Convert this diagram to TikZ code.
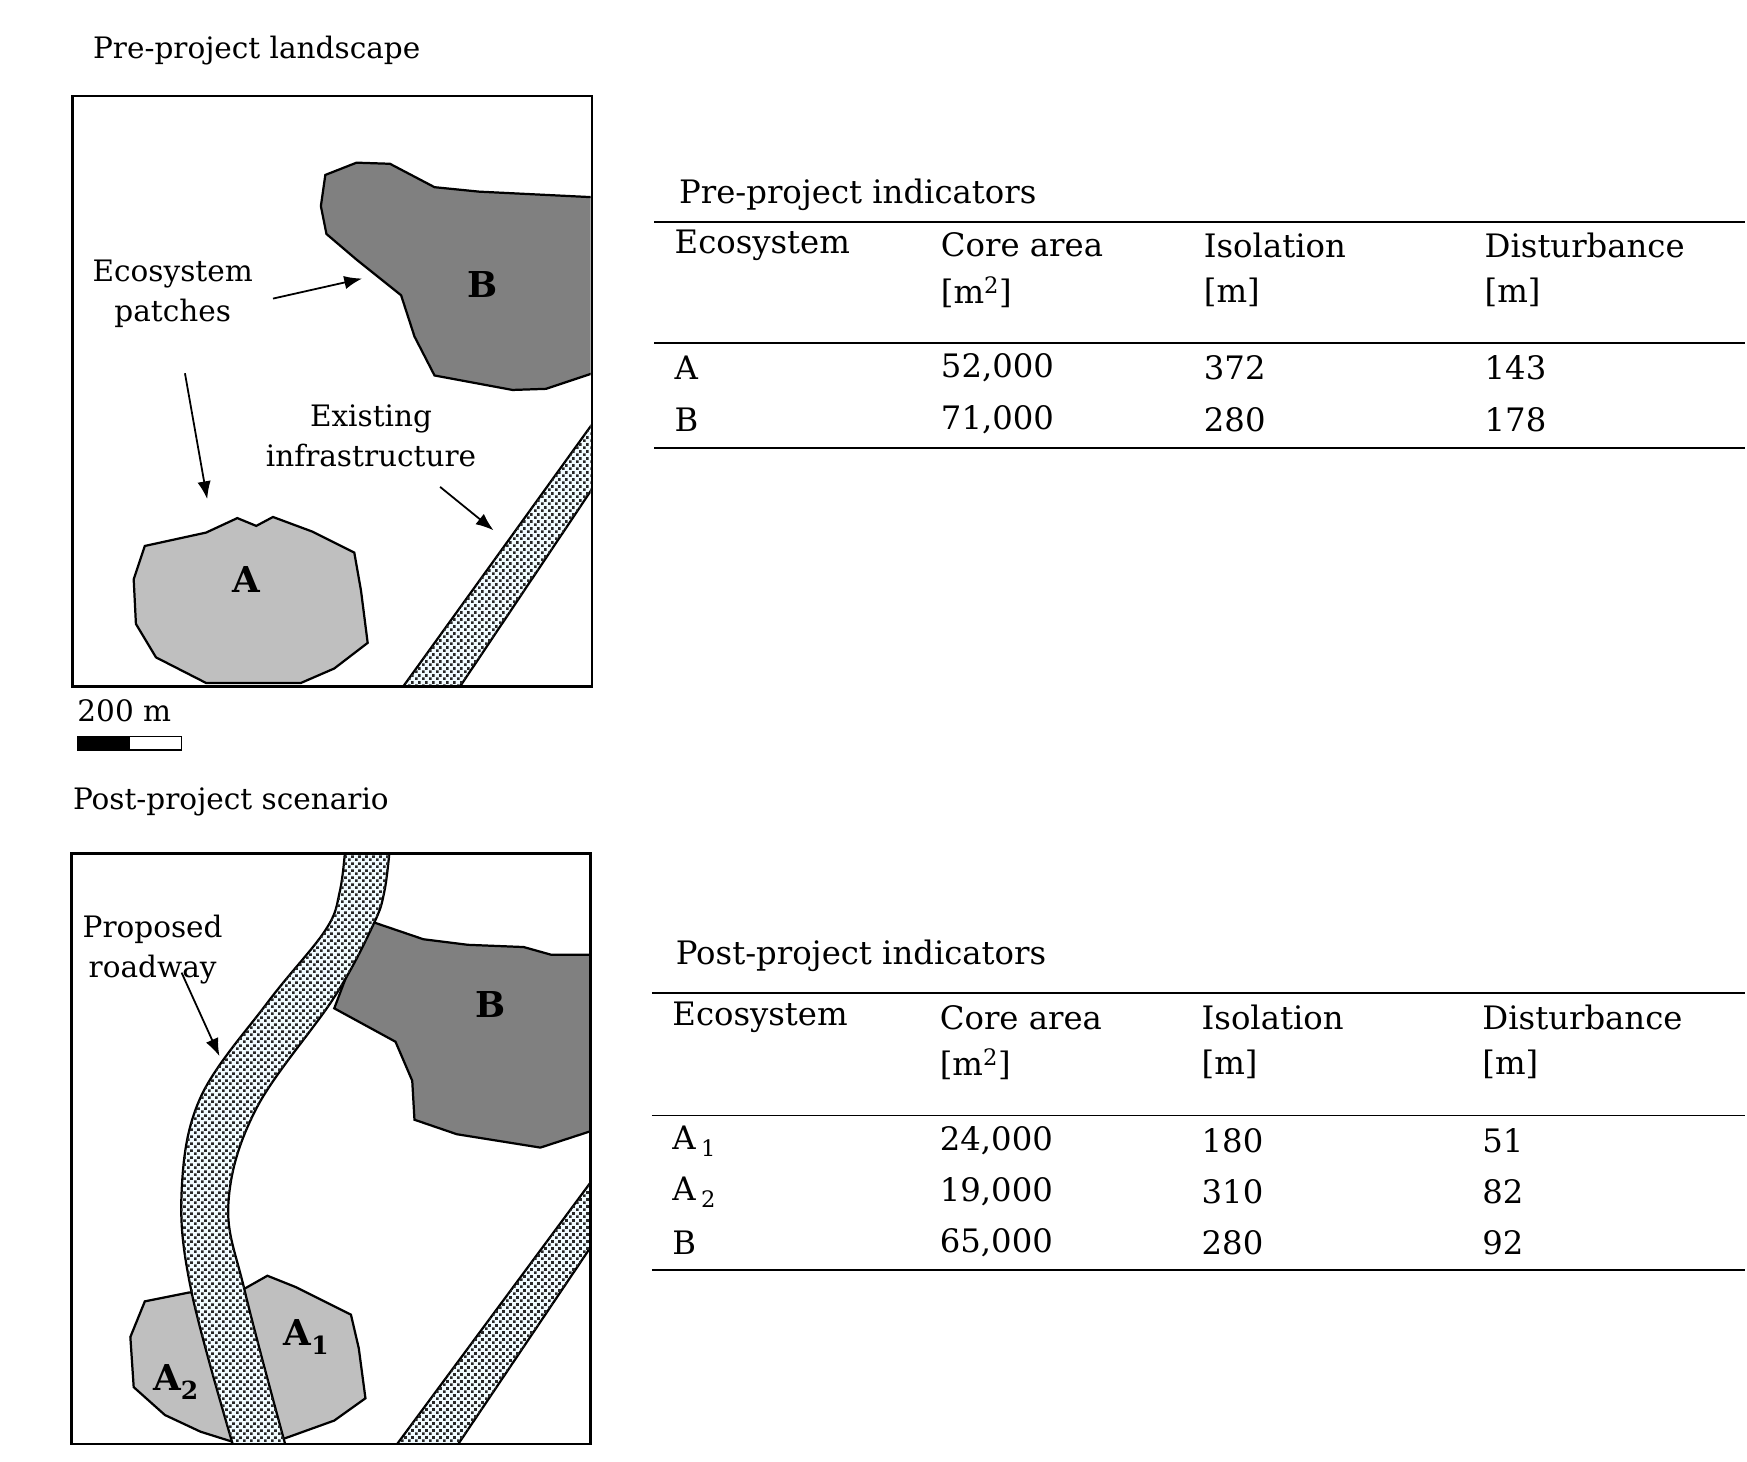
\documentclass[tikz,border=0pt]{standalone}
\usepackage{fontspec}
\setmainfont{DejaVu Serif}
\usetikzlibrary{patterns,arrows.meta}
\pgfdeclarepatternformonly{sqdots}{\pgfqpoint{0pt}{0pt}}{\pgfqpoint{6pt}{6pt}}{\pgfqpoint{6pt}{6pt}}{%
  \pgfpathrectangle{\pgfqpoint{0pt}{0pt}}{\pgfqpoint{2.4pt}{2.4pt}}%
  \pgfpathrectangle{\pgfqpoint{3pt}{3pt}}{\pgfqpoint{2.4pt}{2.4pt}}%
  \pgfusepath{fill}}
\begin{document}
\begin{tikzpicture}[x=1pt,y=-1pt,
  patchA/.style={draw,line width=2pt,fill=black!25},
  patchB/.style={draw,line width=2pt,fill=black!50},
  road/.style={draw,line width=2pt,fill=cyan!6,postaction={pattern=sqdots,pattern color=black!85}},
  frame/.style={draw,line width=2.2pt},
  lbl/.style={font=\fontsize{26.5}{36}\selectfont,align=center},
  big/.style={font=\fontsize{32}{36}\selectfont\bfseries},
  tt/.style={font=\fontsize{29}{33}\selectfont,anchor=west},
  arr/.style={-{Latex[length=16pt,width=12pt]},line width=1.6pt}]
\useasboundingbox (0,0) rectangle (1568,1312);
% ---------- top map
\begin{scope}
\clip (64,85) rectangle (530,615);
\path[patchB] (292,157)--(320,146)--(350,147)--(390,168)--(430,172)--(532,177)--(532,335)--(490,349)--(460,350)--(390,337)--(372,302)--(360,265)--(320,233)--(293,210)--(288,185)--cycle;
\path[patchA] (130,490)--(185,478)--(213,465)--(230,472)--(245,464)--(280,477)--(318,496)--(324,530)--(330,577)--(300,600)--(270,613)--(185,613)--(140,590)--(122,560)--(120,520)--cycle;
\path[road] (362,616)--(532,380)--(532,438)--(413,616)--cycle;
\end{scope}
\node[frame,minimum width=466pt,minimum height=530pt,anchor=north west] (box1) at (64,85) {};
\node[lbl,anchor=west] (t1) at (80,45) {Pre-project landscape};
\node[big] (lB) at (433,255) {B};
\node[big] (lA) at (221,520) {A};
\node[lbl] (ep) at (155,264) {Ecosystem\\patches};
\coordinate (epB) at (325,250);
\coordinate (epA) at (186,448);
\draw[arr] (245,268) -- (epB);
\draw[arr] (166,335) -- (epA);
\node[lbl] (ei) at (333,391) {Existing\\infrastructure};
\coordinate (eiR) at (443,476);
\draw[arr] (395,437) -- (eiR);
\node[lbl,anchor=west] (sc) at (66,638) {200 m};
\draw[line width=1.4pt] (70,661) rectangle (163,673);
\fill (70,661) rectangle (117,673);
% ---------- bottom map
\node[lbl,anchor=west] (t2) at (62,720) {Post-project scenario};
\begin{scope}
\clip (63,765) rectangle (529,1295);
\path[patchB] (330,826)--(380,843)--(420,848)--(470,850)--(495,857)--(531,857)--(531,1015)--(485,1030)--(410,1018)--(372,1005)--(370,970)--(355,935)--(300,905)--cycle;
\path[patchA] (130,1168)--(170,1160)--(210,1162)--(240,1145)--(265,1155)--(315,1180)--(322,1210)--(328,1255)--(300,1275)--(250,1293)--(215,1296)--(180,1285)--(148,1270)--(120,1245)--(117,1200)--cycle;
\path[road] plot[smooth,tension=0.6] coordinates {(310,760)(305,800)(292,835)(240,900)(180,985)(163,1070)(172,1160)(210,1300)}
  -- plot[smooth,tension=0.6] coordinates {(257,1300)(220,1160)(205,1080)(230,995)(300,895)(335,830)(345,800)(350,760)} -- cycle;
\path[road] (355,1298)--(531,1060)--(531,1118)--(410,1298)--cycle;
\end{scope}
\node[frame,minimum width=466pt,minimum height=530pt,anchor=north west] (box2) at (63,765) {};
\node[big] (lB2) at (440,902) {B};
\node[big] (lA1) at (275,1200) {A$_{\mathbf 1}$};
\node[big] (lA2) at (158,1240) {A$_{\mathbf 2}$};
\node[lbl] (pr) at (137,852) {Proposed\\roadway};
\coordinate (prR) at (197,948);
\draw[arr] (163,873) -- (prR);
% ---------- tables
\node[tt] (h1) at (606,175) {Pre-project indicators};
\draw[line width=1.4pt] (587,199)--(1566,199) (587,308)--(1566,308) (587,402)--(1566,402);
\foreach \x/\a/\b in {608/Ecosystem/{},847/{Core area}/{[m\textsuperscript{2}]},1083/Isolation/{[m]},1335/Disturbance/{[m]}}{
  \node[tt] at (\x-6,220) {\a}; \node[tt] at (\x-6,262) {\b};}
\foreach \y/\a/\b/\c/\d in {330/A/{52,000}/372/143,377/B/{71,000}/280/178}{
  \node[tt] at (602,\y) {\a}; \node[tt] at (841,\y) {\b}; \node[tt] at (1077,\y) {\c}; \node[tt] at (1329,\y) {\d};}
\node[tt] (h2) at (603,858) {Post-project indicators};
\draw[line width=1.4pt] (585,891)--(1566,891) (585,1001)--(1566,1001) (585,1140)--(1566,1140);
\foreach \x/\a/\b in {606/Ecosystem/{},846/{Core area}/{[m\textsuperscript{2}]},1081/Isolation/{[m]},1333/Disturbance/{[m]}}{
  \node[tt] at (\x-6,913) {\a}; \node[tt] at (\x-6,955) {\b};}
\foreach \y/\a/\b/\c/\d in {1024/{A\,\textsubscript{1}}/{24,000}/180/51,1070/{A\,\textsubscript{2}}/{19,000}/310/82,1115/B/{65,000}/280/92}{
  \node[tt] at (600,\y) {\a}; \node[tt] at (840,\y) {\b}; \node[tt] at (1075,\y) {\c}; \node[tt] at (1327,\y) {\d};}
\end{tikzpicture}
\end{document}
